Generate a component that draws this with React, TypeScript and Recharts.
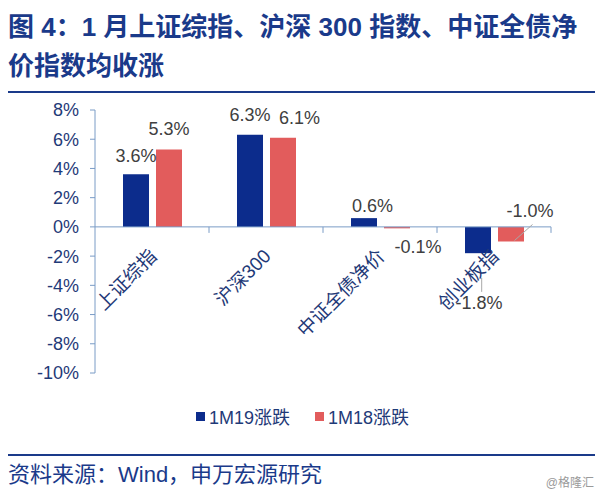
import React from 'react';
import {
  ComposedChart,
  Bar,
  Line,
  XAxis,
  YAxis,
  ReferenceLine,
  Legend,
  LabelList,
} from 'recharts';

// ---- data ----
const categories = ['上证综指', '沪深300', '中证全债净价', '创业板指'];
const m19Values = [3.6, 6.3, 0.6, -1.8];
const m18Values = [5.3, 6.1, -0.1, -1.0];
const seriesKeys = ['m19', 'm18'];
const seriesNames = ['1M19涨跌', '1M18涨跌'];
const yTicks = [-10, -8, -6, -4, -2, 0, 2, 4, 6, 8];

const data = categories.map((name, i) => ({ name, m19: m19Values[i], m18: m18Values[i] }));

// ---- styles ----
const FONT = "'Liberation Sans', 'Noto Sans CJK SC', sans-serif";
const BLUE = '#0c2c8c';
const RED = '#e25c5c';
const AXIS = '#7a9cc6';
const TEXT_BLUE = '#1f3a78';
const TITLE_BLUE = '#1a3a8a';
const LABEL_GRAY = '#404040';

// label nudges (relative to bar centre / bar end)
const labelNudge: Record<string, { dx: number; dy: number; leader?: number[] }[]> = {
  m19: [
    { dx: 0, dy: -19 },
    { dx: 0, dy: -20 },
    { dx: 8.5, dy: -13 },
    { dx: 1, dy: 49, leader: [3.7, 24.7, 3.7, 38.7] },
  ],
  m18: [
    { dx: 0, dy: -20.5 },
    { dx: 16.5, dy: -20.5 },
    { dx: 21, dy: 18 },
    { dx: 19, dy: -31, leader: [3.5, -1, 21.5, -17] },
  ],
};

const getBox = (p: any) => {
  const vb = p.viewBox || {};
  return {
    x: p.x ?? vb.x,
    y: p.y ?? vb.y,
    width: p.width ?? vb.width ?? 0,
    height: p.height ?? vb.height ?? 0,
  };
};

const makeValueLabel = (key: string) => (props: any) => {
  const { index, value } = props;
  const { x, y, width, height } = getBox(props);
  if (x == null || y == null) return null;
  const top = Math.min(y, y + height);
  const bottom = Math.max(y, y + height);
  const v = Number(value);
  const end = v >= 0 ? top : bottom;
  const cx = x + width / 2;
  const n = labelNudge[key][index] || { dx: 0, dy: -20 };
  return (
    <g>
      {n.leader && (
        <line
          x1={cx + n.leader[0]}
          y1={end + n.leader[1]}
          x2={cx + n.leader[2]}
          y2={end + n.leader[3]}
          stroke="#a8a8a8"
          strokeWidth={1}
        />
      )}
      <text
        x={cx + n.dx}
        y={end + n.dy + 6.5}
        textAnchor="middle"
        fontSize={18}
        fontFamily={FONT}
        fill={LABEL_GRAY}
      >
        {`${v.toFixed(1)}%`}
      </text>
    </g>
  );
};

const CategoryLabel = (props: any) => {
  const { x, y } = getBox(props);
  if (x == null || y == null) return null;
  const bx = x + 6;
  const by = y + 30.5;
  return (
    <text
      x={bx}
      y={by}
      textAnchor="end"
      transform={`rotate(-45 ${bx} ${by})`}
      fontSize={19}
      fontFamily={FONT}
      fill={TEXT_BLUE}
    >
      {props.value}
    </text>
  );
};

const ZeroTicks = (props: any) => {
  const vb = props.viewBox || {};
  const { x, y, width } = vb;
  if (x == null || y == null || width == null) return null;
  const n = categories.length;
  return (
    <g>
      {categories.map((_, i) => {
        const tx = x + (width * (i + 1)) / n;
        return <line key={i} x1={tx} y1={y} x2={tx} y2={y + 6} stroke={AXIS} strokeWidth={1} />;
      })}
    </g>
  );
};

const renderLegend = (props: any) => {
  const items = (props.payload || [])
    .filter((p: any) => p.type !== 'none' && seriesKeys.includes(p.dataKey))
    .sort((a: any, b: any) => seriesKeys.indexOf(a.dataKey) - seriesKeys.indexOf(b.dataKey));
  return (
    <div
      style={{
        display: 'flex',
        justifyContent: 'center',
        alignItems: 'center',
        paddingLeft: 5,
        fontFamily: FONT,
        fontSize: 18,
        lineHeight: '20px',
        color: TEXT_BLUE,
      }}
    >
      {items.map((it: any, i: number) => (
        <div
          key={i}
          style={{ display: 'flex', alignItems: 'center', marginRight: i < items.length - 1 ? 25 : 0 }}
        >
          <span
            style={{
              display: 'inline-block',
              width: 9,
              height: 9,
              background: it.color,
              marginRight: 4,
              position: 'relative',
              top: -1.5,
            }}
          />
          <span>{it.value}</span>
        </div>
      ))}
    </div>
  );
};

export default function App() {
  return (
    <div style={{ position: 'absolute', left: 0, top: 0, width: 600, height: 495, background: '#fff', overflow: 'hidden' }}>
      <div
        style={{
          position: 'absolute',
          left: 8,
          top: 8,
          fontFamily: FONT,
          fontSize: 26,
          fontWeight: 'bold',
          lineHeight: '39px',
          color: TITLE_BLUE,
          whiteSpace: 'nowrap',
        }}
      >
        <div>图 4：1 月上证综指、沪深 300 指数、中证全债净</div>
        <div>价指数均收涨</div>
      </div>
      <div style={{ position: 'absolute', left: 8, top: 90.5, width: 587, height: 2, background: TITLE_BLUE }} />

      <div style={{ position: 'absolute', left: 0, top: 0 }}>
        <ComposedChart
          width={600}
          height={495}
          data={data}
          margin={{ top: 110, right: 49, bottom: 122, left: 0 }}
          barCategoryGap={28}
          barGap={7}
        >
          <XAxis dataKey="name" hide />
          <YAxis
            width={95}
            domain={[-10, 8]}
            ticks={yTicks}
            interval={0}
            tickFormatter={(v: number) => `${v}%`}
            tick={{ fill: TEXT_BLUE, fontSize: 18, fontFamily: FONT }}
            axisLine={{ stroke: AXIS }}
            tickLine={{ stroke: AXIS }}
            tickSize={5}
            tickMargin={11}
            allowDataOverflow
          />
          <Bar dataKey="m19" name={seriesNames[0]} fill={BLUE} isAnimationActive={false}>
            <LabelList dataKey="m19" content={makeValueLabel('m19')} />
          </Bar>
          <Bar dataKey="m18" name={seriesNames[1]} fill={RED} isAnimationActive={false}>
            <LabelList dataKey="m18" content={makeValueLabel('m18')} />
          </Bar>
          <Line
            dataKey={() => 0}
            stroke="none"
            dot={false}
            activeDot={false}
            legendType="none"
            isAnimationActive={false}
          >
            <LabelList dataKey="name" content={CategoryLabel} />
          </Line>
          <ReferenceLine y={0} stroke={AXIS} strokeWidth={1} label={(p: any) => <ZeroTicks {...p} />} />
          <Legend
            layout="horizontal"
            verticalAlign="middle"
            align="center"
            wrapperStyle={{ top: 408, left: 0, width: 600 }}
            content={renderLegend}
          />
        </ComposedChart>
      </div>

      <div style={{ position: 'absolute', left: 8, top: 453.5, width: 587, height: 2, background: TITLE_BLUE }} />
      <div
        style={{
          position: 'absolute',
          left: 8,
          top: 463,
          fontFamily: FONT,
          fontSize: 22,
          lineHeight: '24px',
          color: TITLE_BLUE,
          whiteSpace: 'nowrap',
        }}
      >
        资料来源：Wind，申万宏源研究
      </div>
      <div
        style={{
          position: 'absolute',
          right: 6,
          top: 476,
          fontFamily: FONT,
          fontSize: 12,
          lineHeight: '14px',
          color: '#9a9a9a',
          whiteSpace: 'nowrap',
        }}
      >
        @格隆汇
      </div>
    </div>
  );
}
